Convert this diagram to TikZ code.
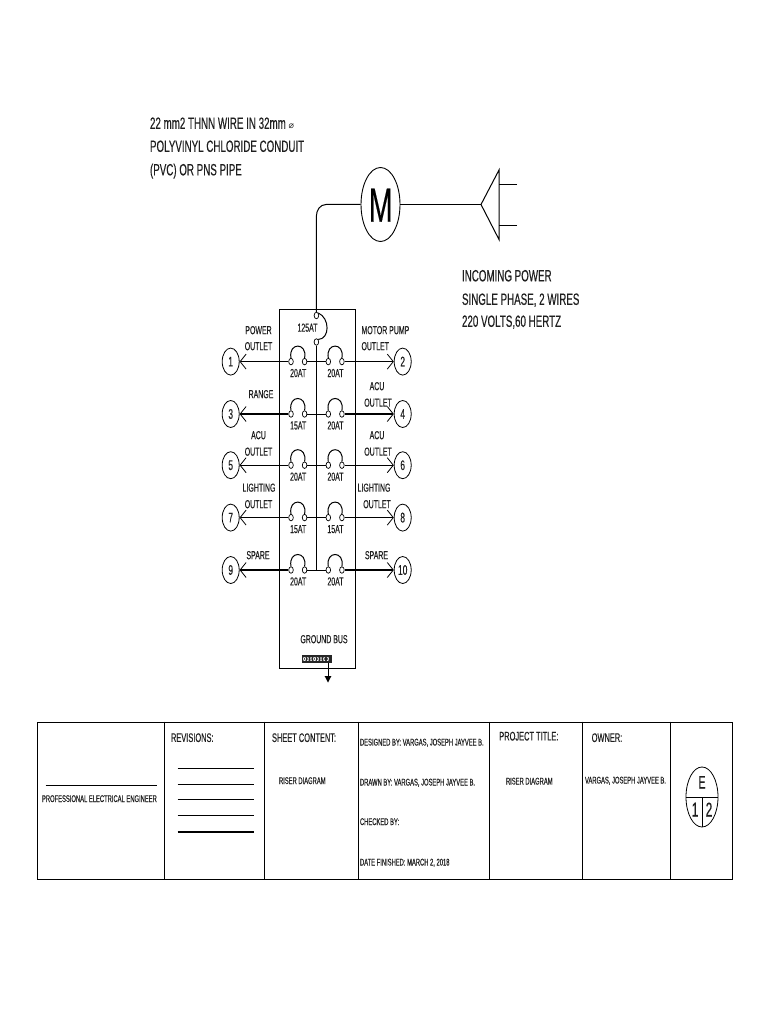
\documentclass[tikz,border=0pt]{standalone}
\usepackage{fontspec}
\setmainfont[FakeStretch=0.6,FakeBold=0.25]{Liberation Sans}
\newfontfamily\symfont{DejaVu Sans}
\usetikzlibrary{arrows.meta,shapes.geometric}
\tikzset{
  x=1pt,y=-1pt,
  txt/.style={inner sep=0pt,outer sep=0pt,text=black!88},
  bigt/.style={txt,font=\fontsize{16.3}{18}\selectfont,text height=11.7pt,text depth=0pt,anchor=west},
  midt/.style={txt,font=\fontsize{12.4}{14}\selectfont,text height=8.9pt,text depth=0pt},
  labt/.style={txt,font=\fontsize{11.6}{14}\selectfont,text height=8.3pt,text depth=0pt},
  smallt/.style={txt,font=\fontsize{9.7}{11}\selectfont,text height=7pt,text depth=0pt,anchor=west},
  outlet/.style={draw,ellipse,minimum width=17pt,minimum height=27pt,inner sep=0pt,line width=.8pt,font=\fontsize{14}{15}\selectfont,text=black!88},
  term/.style={draw,ellipse,fill=white,minimum width=4.6pt,minimum height=6.5pt,inner sep=0pt,line width=.7pt},
  wire/.style={line width=1pt},
  feeder/.style={line width=1.1pt,-{Straight Barb[length=6pt,width=15pt,line width=.8pt]}},
  blockline/.style={line width=1pt},
  sigline/.style={line width=1.5pt},
  sheetnum/.style={txt,text height=11pt,text depth=0pt},
}
\begin{document}
\begin{tikzpicture}
\useasboundingbox (0,0) rectangle (768,1024);
\fill[white] (0,0) rectangle (768,1024);

% texts at the top
\node[bigt] (t1) at (150,123) {22 mm2 THNN WIRE IN 32mm {\symfont\fontsize{9}{10}\selectfont ⌀}};
\node[bigt] (t2) at (150,146) {POLYVINYL CHLORIDE CONDUIT};
\node[bigt] (t3) at (150,169.5) {(PVC) OR PNS PIPE};
\node[bigt] (p1) at (462,275.5) {INCOMING POWER};
\node[bigt] (p2) at (462,299) {SINGLE PHASE, 2 WIRES};
\node[bigt] (p3) at (462,321) {220 VOLTS,60 HERTZ};

% motor and plug
\node[draw,ellipse,minimum width=39pt,minimum height=74pt,inner sep=0pt,line width=.9pt] (motor) at (380.5,204.5) {};
\node[inner sep=0pt,font=\fontsize{48}{48}\selectfont,text height=34.5pt,text depth=0pt] (mlabel) at (380.7,204.5) {M};
\coordinate (apex) at (481,204.5);
\coordinate (plugT) at (499,170);
\coordinate (plugB) at (499,239.5);
\coordinate (prong1) at (517,185);
\coordinate (prong2) at (517,225.5);
\draw[wire] (motor.east) -- (apex);
\draw[wire,line join=miter] (plugT) -- (apex) -- (plugB) -- cycle;
\draw[wire] (prong1) -- (prong1 -| plugT);
\draw[wire] (prong2) -- (prong2 -| plugT);

% panel
\node[draw,line width=.9pt,minimum width=75.3pt,minimum height=359.3pt,inner sep=0pt,anchor=north west] (panel) at (279.2,309) {};
\node[term] (mt) at (316.4,315.5) {};
\node[term] (mb) at (316.4,342) {};
\draw[wire] (motor.west) -- (326,204.5) to[out=180,in=90] (316.4,216) -- (mt.north);
\draw[wire] (mt.north east) .. controls (330,318) and (330,339) .. (mb.north east);
\node[labt] (m125) at (307.5,327.5) {125AT};

\newcommand{\brk}[4]{% name, x-left, y, label
  \node[term] (#1a) at (#2,#3) {};
  \node[term] (#1b) at (#2+13.6,#3) {};
  \draw[wire] (#1a.north) .. controls (#2-3,#3-19.5) and (#2+16.6,#3-19.5) .. (#1b.north);
  \node[labt] (#1t) at (#2+7.2,#3+11.3) {#4};
}
\newcommand{\outrow}[6]{% row id, y, left no, right no, left label, right label
  \node[outlet] (o#3) at (230.7,#2) {#3};
  \node[outlet] (o#4) at (402.7,#2) {#4};
  \brk{L#1}{291}{#2}{#5}
  \brk{R#1}{328.3}{#2}{#6}
  \draw[feeder] (L#1a.west) -- (o#3.east);
  \draw[wire] (L#1b.east) -- (R#1a.west);
  \draw[feeder] (R#1b.east) -- (o#4.west);
}
\outrow{1}{361.6}{1}{2}{20AT}{20AT}
\outrow{2}{414}{3}{4}{15AT}{20AT}
\outrow{3}{465.2}{5}{6}{20AT}{20AT}
\outrow{4}{517.6}{7}{8}{15AT}{15AT}
\outrow{5}{570}{9}{10}{20AT}{20AT}
\coordinate (busend) at (316.4,570);
\draw[wire] (mb.south) -- (busend);

% outlet labels
\node[labt] (l1a) at (258.5,330) {POWER};
\node[labt] (l1b) at (258.5,346) {OUTLET};
\node[labt,anchor=west] (r1a) at (361.5,330) {MOTOR PUMP};
\node[labt,anchor=west] (r1b) at (361.5,346) {OUTLET};
\node[labt] (l2a) at (261,394) {RANGE};
\node[labt] (r2a) at (377,386) {ACU};
\node[labt] (r2b) at (378,402.5) {OUTLET};
\node[labt] (l3a) at (258.5,435) {ACU};
\node[labt] (l3b) at (258.5,451.5) {OUTLET};
\node[labt] (r3a) at (377,435) {ACU};
\node[labt] (r3b) at (378,451.5) {OUTLET};
\node[labt] (l4a) at (259,487.5) {LIGHTING};
\node[labt] (l4b) at (258.5,504) {OUTLET};
\node[labt] (r4a) at (374,487.5) {LIGHTING};
\node[labt] (r4b) at (377,504) {OUTLET};
\node[labt] (l5a) at (258,555) {SPARE};
\node[labt] (r5a) at (376.5,555) {SPARE};

% ground bus
\node[labt] (gb) at (324,639) {GROUND BUS};
\node[fill=black!85,minimum width=30pt,minimum height=7.6pt,inner sep=0pt,anchor=north west] (gbar) at (301.3,655) {};
\foreach \i in {0,...,7}{
  \fill[white] (303.4+3.3*\i,656.9) rectangle +(2.2,3.8);
  \draw[black!70,line width=.4pt] (303.4+3.3*\i,656.9) -- +(2.2,3.8) (305.6+3.3*\i,656.9) -- +(-2.2,3.8);
}
\coordinate (gnd) at (328,676);
\draw[wire] (gbar.south -| gnd) -- (gnd);
\fill[black] (324.6,676) -- (331.4,676) -- (328,682.5) -- cycle;

% title block
\node[draw,line width=1.2pt,minimum width=695.4pt,minimum height=157pt,inner sep=0pt,anchor=north west] (block) at (36.8,721.7) {};
\foreach \x in {164.3,264.3,358.8,489.5,582.7,670.7}{
  \draw[blockline] (\x,721.7) -- (\x,878.7);
}
\draw[sigline] (45.7,785.7) -- (156.7,785.7);
\foreach \y in {768.3,784.7,799.7,815.7,832}{
  \draw[sigline] (177.7,\y) -- (253.7,\y);
}
\node[smallt] (pe) at (42,798.5) {PROFESSIONAL ELECTRICAL ENGINEER};
\node[midt,anchor=west] (rev) at (171,737.5) {REVISIONS:};
\node[midt,anchor=west] (sc) at (272,737.5) {SHEET CONTENT:};
\node[smallt] (rd1) at (279,780.5) {RISER DIAGRAM};
\node[smallt] (d1) at (360,742) {DESIGNED BY: VARGAS, JOSEPH JAYVEE B.};
\node[smallt] (d2) at (360,782) {DRAWN BY: VARGAS, JOSEPH JAYVEE B.};
\node[smallt] (d3) at (360,821.5) {CHECKED BY:};
\node[smallt] (d4) at (360,862) {DATE FINISHED: MARCH 2, 2018};
\node[midt,anchor=west] (pt) at (499.3,736) {PROJECT TITLE:};
\node[smallt] (rd2) at (506,781) {RISER DIAGRAM};
\node[midt,anchor=west] (ow) at (591.7,737.5) {OWNER:};
\node[smallt] (vg) at (585,780) {VARGAS, JOSEPH JAYVEE B.};

% sheet number
\node[draw,ellipse,minimum width=32pt,minimum height=60pt,inner sep=0pt,line width=.8pt] (sheet) at (702,797) {};
\draw[line width=.8pt] (sheet.west) -- (sheet.east);
\draw[line width=.8pt] (sheet.center) -- (sheet.south);
\node[sheetnum,font=\fontsize{18}{20}\selectfont] (se) at (702,783) {E};
\node[sheetnum,font=\fontsize{20}{22}\selectfont] (s1) at (695,811) {1};
\node[sheetnum,font=\fontsize{20}{22}\selectfont] (s2) at (709,811) {2};
\end{tikzpicture}
\end{document}
